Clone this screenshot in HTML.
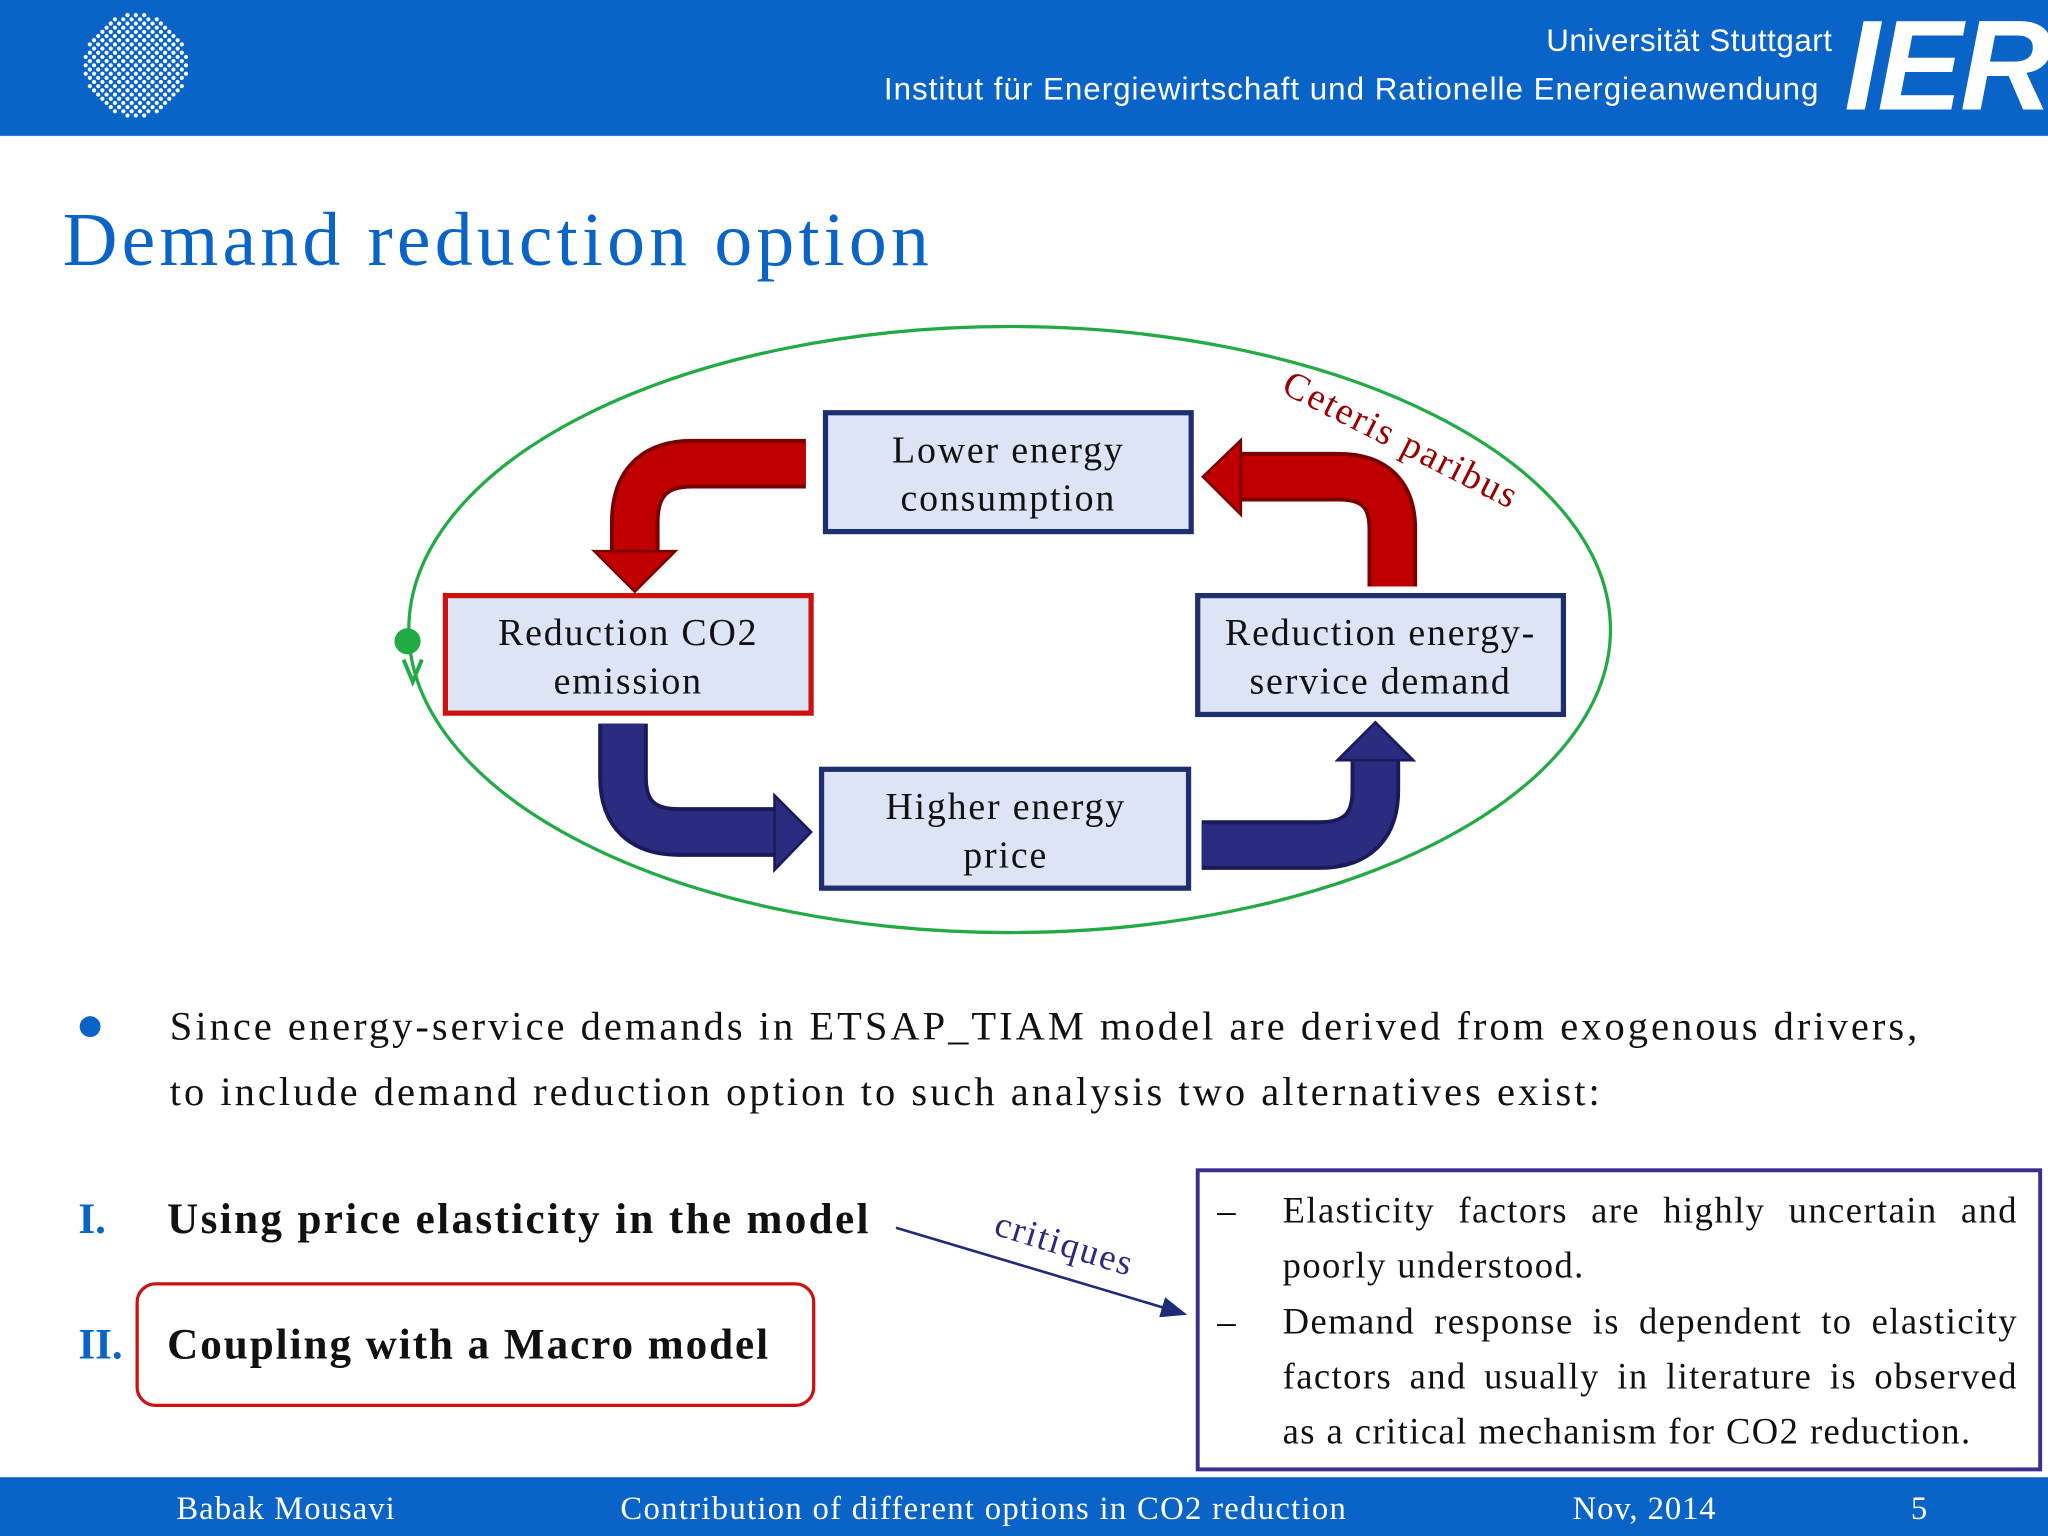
<!DOCTYPE html>
<html><head><meta charset="utf-8">
<style>
html,body{margin:0;padding:0;width:2048px;height:1536px;overflow:hidden;background:#fff}
#wrap{position:absolute;left:0;top:0;width:1568px;height:1176px;transform:scale(1.306122);transform-origin:0 0;font-family:"Liberation Serif",serif}
.abs{position:absolute;white-space:nowrap}
.ser{font-family:"Liberation Serif",serif}
.san{font-family:"Liberation Sans",sans-serif}
.jl{position:absolute;left:982px;width:563px;font-size:28px;color:#111;text-align:justify;text-align-last:justify;white-space:nowrap;letter-spacing:1.1px}
</style></head><body>
<div id="wrap">
<svg width="1568" height="1176" viewBox="0 0 1568 1176" style="position:absolute;left:0;top:0">
<defs>
<marker id="ah" markerWidth="10" markerHeight="10" refX="9" refY="5" orient="auto"><path d="M0,1 L10,5 L0,9 z" fill="#1f2a78"/></marker>
</defs>
<rect x="0" y="0" width="1568" height="104" fill="#0a64c8"/>
<g fill="#fff" id="logo"></g>
<rect x="0" y="1131" width="1568" height="45" fill="#0a64c8"/>
<ellipse cx="773" cy="482" rx="460" ry="232" fill="none" stroke="#22aa44" stroke-width="2.5"/>
<circle cx="312" cy="491" r="10" fill="#22aa44"/>
<path d="M309,505 L316,522 L323,505" fill="none" stroke="#22aa44" stroke-width="3"/>
<g>
<path d="M617,355 L530,355 Q486,355 486,400 L486,425" fill="none" stroke="#7a0000" stroke-width="38"/>
<path d="M617,355 L530,355 Q486,355 486,400 L486,425" fill="none" stroke="#c00000" stroke-width="32"/>
<polygon points="455,422 517,422 486,453" fill="#c00000" stroke="#7a0000" stroke-width="2"/>
</g>
<g>
<path d="M1066,449 L1066,405 Q1066,365 1025,365 L948,365" fill="none" stroke="#7a0000" stroke-width="38"/>
<path d="M1066,449 L1066,405 Q1066,365 1025,365 L948,365" fill="none" stroke="#c00000" stroke-width="32"/>
<polygon points="950,337 950,394 921,365" fill="#c00000" stroke="#7a0000" stroke-width="2"/>
</g>
<g>
<path d="M477,554 L477,595 Q477,637 520,637 L595,637" fill="none" stroke="#1a1a5a" stroke-width="38"/>
<path d="M477,554 L477,595 Q477,637 520,637 L595,637" fill="none" stroke="#2b2b80" stroke-width="32"/>
<polygon points="593,609 593,666 621,637" fill="#2b2b80" stroke="#1a1a5a" stroke-width="2"/>
</g>
<g>
<path d="M920,647 L1010,647 Q1053,647 1053,605 L1053,580" fill="none" stroke="#1a1a5a" stroke-width="38"/>
<path d="M920,647 L1010,647 Q1053,647 1053,605 L1053,580" fill="none" stroke="#2b2b80" stroke-width="32"/>
<polygon points="1024,582 1082,582 1053,553" fill="#2b2b80" stroke="#1a1a5a" stroke-width="2"/>
</g>
<g font-family="Liberation Serif, serif" font-size="29" fill="#111" text-anchor="middle" letter-spacing="1.4">
<rect x="632" y="316" width="280" height="91" fill="#dde4f5" stroke="#1f2f6e" stroke-width="4"/>
<text x="772" y="354">Lower energy</text><text x="772" y="391">consumption</text>
<rect x="341" y="456" width="280" height="90" fill="#dde4f5" stroke="#cc1111" stroke-width="4"/>
<text x="481" y="494">Reduction CO2</text><text x="481" y="531">emission</text>
<rect x="917" y="456" width="280" height="91" fill="#dde4f5" stroke="#1f2f6e" stroke-width="4"/>
<text x="1057" y="494">Reduction energy-</text><text x="1057" y="531">service demand</text>
<rect x="629" y="589" width="281" height="91" fill="#dde4f5" stroke="#1f2f6e" stroke-width="4"/>
<text x="770" y="627">Higher energy</text><text x="770" y="664">price</text>
</g>
<text x="980" y="300" transform="rotate(27 980 300)" font-family="Liberation Serif, serif" font-size="29" letter-spacing="1.6" fill="#9a0000">Ceteris paribus</text>
<circle cx="69" cy="786" r="8" fill="#0a64c8"/>
<line x1="686" y1="940" x2="907" y2="1006" stroke="#1f2a78" stroke-width="2" marker-end="url(#ah)"/>
<text x="760" y="945" transform="rotate(17 760 945)" font-family="Liberation Serif, serif" font-size="28" letter-spacing="1.5" fill="#2a2a80">critiques</text>
<rect x="105" y="983" width="518" height="93" rx="14" fill="none" stroke="#cc1111" stroke-width="2.5"/>
<rect x="917" y="896" width="645" height="229" fill="none" stroke="#3a2f8f" stroke-width="3"/>
</svg>
<div class="abs san" style="right:165px;top:18px;font-size:24px;color:#fff;letter-spacing:0.4px">Universität Stuttgart</div>
<div class="abs san" style="right:175px;top:55px;font-size:24px;color:#fff;letter-spacing:0.75px">Institut für Energiewirtschaft und Rationelle Energieanwendung</div>
<div class="abs san" style="left:1412px;top:-6px;font-size:98px;font-weight:bold;font-style:italic;color:#fff;letter-spacing:-2px">IER</div>
<div class="abs ser" style="left:48px;top:150px;font-size:58px;color:#0a64c8;letter-spacing:3.2px">Demand reduction option</div>
<div class="abs ser" style="left:130px;top:768px;font-size:31px;color:#111;letter-spacing:2.3px">Since energy-service demands in ETSAP_TIAM model are derived from exogenous drivers,</div>
<div class="abs ser" style="left:130px;top:818px;font-size:31px;color:#111;letter-spacing:2.3px">to include demand reduction option to such analysis two alternatives exist:</div>
<div class="abs ser" style="left:60px;top:916px;font-size:33px;font-weight:bold;color:#0a64c8">I.</div>
<div class="abs ser" style="left:128px;top:916px;font-size:33px;font-weight:bold;color:#111;letter-spacing:1.8px">Using price elasticity in the model</div>
<div class="abs ser" style="left:60px;top:1012px;font-size:33px;font-weight:bold;color:#0a64c8">II.</div>
<div class="abs ser" style="left:128px;top:1012px;font-size:33px;font-weight:bold;color:#111;letter-spacing:1.5px">Coupling with a Macro model</div>
<div class="abs ser" style="left:932px;top:912px;font-size:28px">–</div>
<div class="abs ser" style="left:932px;top:997px;font-size:28px">–</div>
<div class="jl" style="top:912px">Elasticity factors are highly uncertain and</div>
<div class="jl" style="top:954px;text-align-last:left">poorly understood.</div>
<div class="jl" style="top:997px">Demand response is dependent to elasticity</div>
<div class="jl" style="top:1039px">factors and usually in literature is observed</div>
<div class="jl" style="top:1081px;text-align-last:left">as a critical mechanism for CO2 reduction.</div>
<div class="abs ser" style="left:135px;top:1142px;font-size:25px;color:#fff;letter-spacing:0.8px">Babak Mousavi</div>
<div class="abs ser" style="left:475px;top:1142px;font-size:25px;color:#fff;letter-spacing:1px">Contribution of different options in CO2 reduction</div>
<div class="abs ser" style="left:1204px;top:1142px;font-size:25px;color:#fff;letter-spacing:0.7px">Nov, 2014</div>
<div class="abs ser" style="left:1463px;top:1142px;font-size:25px;color:#fff">5</div>
</div>
<script>
var g=document.getElementById('logo');
for(var i=-10;i<=10;i++){for(var j=-10;j<=10;j++){
 var dx=(i-j)*3.2, dy=(i+j)*3.2;
 var d=Math.hypot(dx,dy);
 if(d>39)continue;
 var c=document.createElementNS('http://www.w3.org/2000/svg','circle');
 
 
 c.setAttribute('cx',104+dx);c.setAttribute('cy',50+dy);c.setAttribute('r',1.6);
 g.appendChild(c);
}}
</script>
</body></html>
